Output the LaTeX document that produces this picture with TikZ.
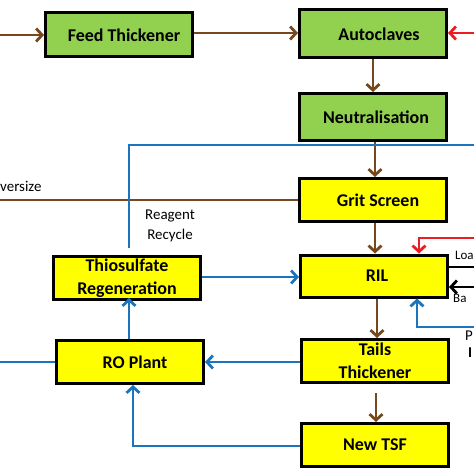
\documentclass[tikz,border=0pt]{standalone}
\usepackage{fontspec}
\setmainfont{Carlito}
\usetikzlibrary{arrows.meta,calc}
\definecolor{boxgreen}{RGB}{146,208,80}
\definecolor{boxyellow}{RGB}{255,255,0}
\definecolor{brn}{RGB}{118,72,28}
\definecolor{blu}{RGB}{28,117,188}
\definecolor{rd}{RGB}{235,28,36}
\tikzset{
  unit/.style={draw=black, line width=3bp, minimum width=147bp, minimum height=43bp,
    inner sep=1bp, align=center, font=\fontsize{18}{23}\selectfont\bfseries},
  gbox/.style={unit, fill=boxgreen},
  ybox/.style={unit, fill=boxyellow},
  tip/.style={-{Straight Barb[length=6bp,width=13bp,line width=2.8bp]}},
  bflow/.style={draw=brn, line width=2.8bp},
  lflow/.style={draw=blu, line width=2.8bp},
  rflow/.style={draw=rd, line width=2.8bp},
  kflow/.style={draw=black, line width=2.8bp},
  lbl/.style={font=\fontsize{15}{20}\selectfont, inner sep=0pt, align=center},
}
\begin{document}
\begin{tikzpicture}[x=1bp,y=-1bp]
\useasboundingbox (0,0) rectangle (474,474);
% boxes
\node[gbox, minimum height=44bp] (ft) at (119,35) {\hspace*{10bp}Feed Thickener};
\node[gbox, minimum height=48bp] (auto) at (373,34) {\hspace*{12bp}Autoclaves};
\node[gbox, minimum height=47bp] (neut) at (373,117) {\hspace*{6bp}Neutralisation};
\node[ybox] (grit) at (373,200) {\hspace*{10bp}Grit Screen};
\node[ybox, minimum height=42bp] (ril) at (374,276) {\hspace*{6bp}RIL};
\node[ybox] (thio) at (127,278) {Thiosulfate\\Regeneration};
\node[ybox] (ro) at (130,362) {\hspace*{10bp}RO Plant};
\node[ybox] (tails) at (375,361) {Tails\\Thickener};
\node[ybox] (tsf) at (375,445) {New TSF};
% free ends
\coordinate (inL) at (0,35);
\coordinate (inR) at (474,33);
\coordinate (rrA) at (129,248);
\coordinate (rrB) at (129,145);
\coordinate (rrC) at (474,145);
\coordinate (ovL) at (0,200);
\coordinate (loadR) at (474,238);
\coordinate (loadC) at (419,238);
\coordinate (blkA) at (474,267);
\coordinate (blkB) at (474,287);
\coordinate (pwR) at (474,327);
\coordinate (pwC) at (417,327);
\coordinate (roL) at (0,362);
\coordinate (tsfC) at (133,446);
% brown main flow
\draw[bflow,tip] (inL) -- (ft.west);
\draw[bflow,tip] (ft.east |- 0,33) -- (auto.west |- 0,33);
\draw[bflow,tip] (auto.south) -- (neut.north);
\draw[bflow,tip] (neut.south -| 375,0) -- (grit.north -| 375,0);
\draw[bflow] (ovL) -- (grit.west);
\draw[bflow,tip] (grit.south -| 375,0) -- (ril.north -| 375,0);
\draw[bflow,tip] (ril.south -| 377,0) -- (tails.north -| 377,0);
\draw[bflow,tip] ([yshift=-9bp]tails.south -| 376,0) -- (tsf.north -| 376,0);
% red
\draw[rflow,tip] (inR) -- (auto.east |- inR);
\draw[rflow,tip] (loadR) -- (loadC) -- (loadC |- ril.north);
% black
\draw[kflow] (ril.east |- blkA) -- (blkA);
\draw[kflow,tip] (blkB) -- (ril.east |- blkB);
% blue
\draw[lflow] (rrA) -- (rrB) -- (rrC);
\draw[lflow,tip] (thio.east |- 0,277) -- (ril.west |- 0,277);
\draw[lflow,tip] (ro.north -| 129,0) -- ([yshift=3bp]thio.south -| 129,0);
\draw[lflow] (roL) -- (ro.west);
\draw[lflow,tip] (tails.west |- 0,362) -- (ro.east |- 0,362);
\draw[lflow,tip] (tsf.west |- tsfC) -- (tsfC) -- (tsfC |- ro.south);
\draw[lflow,tip] (pwR) -- (pwC) -- (pwC |- ril.south);
% labels
\node[lbl, anchor=west] (ovt) at (0,186) {versize};
\node[lbl] (rr) at (170,226) {Reagent\\Recycle};
\node[lbl, anchor=west, font=\fontsize{13}{16}\selectfont] (lo) at (455,255) {Loa};
\node[lbl, anchor=west, font=\fontsize{13}{16}\selectfont] (ba) at (453,298) {Ba};
\node[lbl, anchor=west, font=\fontsize{15}{18}\selectfont] (pp) at (465,336) {P};
\node[lbl, anchor=west, font=\fontsize{15}{18}\selectfont\bfseries] (ii) at (468,353) {I};
\end{tikzpicture}
\end{document}
